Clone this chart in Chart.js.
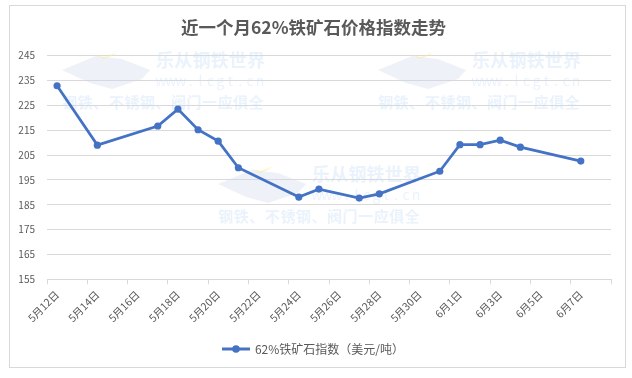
<!DOCTYPE html>
<html>
<head>
<meta charset="utf-8">
<script src="https://cdn.jsdelivr.net/npm/chart.js@4"></script>
<style>
  html, body { margin: 0; padding: 0; background: #fff; }
  #wrap { width: 632px; height: 378px; }
</style>
</head>
<body>
<div id="wrap"><canvas id="chart" width="632" height="378"></canvas></div>
<script>
// 近一个月62%铁矿石价格指数走势

// every day on the axis (one slot per day)
const axisDays = [
    '5月12日', '5月13日', '5月14日', '5月15日', '5月16日', '5月17日', '5月18日',
    '5月19日', '5月20日', '5月21日', '5月22日', '5月23日', '5月24日', '5月25日',
    '5月26日', '5月27日', '5月28日', '5月29日', '5月30日', '5月31日', '6月1日',
    '6月2日', '6月3日', '6月4日', '6月5日', '6月6日', '6月7日', '6月8日'
];

// days with a published index
const priceDates = [
    '5月12日', '5月14日', '5月17日', '5月18日', '5月19日', '5月20日', '5月21日',
    '5月24日', '5月25日', '5月27日', '5月28日', '5月31日', '6月1日', '6月2日',
    '6月3日', '6月4日', '6月7日'
];
const priceValues = [
    232.9, 209.0, 216.7, 223.5, 215.2, 210.6, 199.9,
    188.1, 191.3, 187.7, 189.4, 198.5, 209.2, 209.2,
    211.0, 208.2, 202.6
];

const yTicks = [155, 165, 175, 185, 195, 205, 215, 225, 235, 245];

const seriesName = '62%铁矿石指数（美元/吨）';
const titleText = '近一个月62%铁矿石价格指数走势';
const markText = ['乐从钢铁世界', 'www.lcgt.cn', '钢铁、不锈钢、阀门一应俱全'];

const blue = '#4472C4';
const textGrey = '#595959';
const lineGrey = '#d9d9d9';
const cjk = '"Noto Sans CJK SC", "Noto Sans", sans-serif';

// legend marker: short line with a dot, like the spreadsheet legend
function makeLegendSymbol() {
    const c = document.createElement('canvas');
    c.width = 28;
    c.height = 10;
    const g = c.getContext('2d');
    g.strokeStyle = blue;
    g.lineWidth = 3;
    g.beginPath();
    g.moveTo(0, 5);
    g.lineTo(28, 5);
    g.stroke();
    g.fillStyle = blue;
    g.beginPath();
    g.arc(14, 5, 3.8, 0, Math.PI * 2);
    g.fill();
    return c;
}

// draw text with each character on an even pitch
function spacedText(g, text, left, right, y) {
    const step = (right - left) / text.length;
    for (let i = 0; i < text.length; i++) {
        g.fillText(text[i], left + step * (i + 0.5), y);
    }
}

function drawWatermark(g, dx, dy) {
    g.save();
    // faint logo block
    g.fillStyle = 'rgba(205, 214, 232, 0.35)';
    g.beginPath();
    g.moveTo(62 + dx, 70 + dy);
    g.lineTo(96 + dx, 56 + dy);
    g.lineTo(122 + dx, 59 + dy);
    g.lineTo(150 + dx, 70 + dy);
    g.lineTo(142 + dx, 79 + dy);
    g.lineTo(112 + dx, 89 + dy);
    g.lineTo(90 + dx, 83 + dy);
    g.closePath();
    g.fill();
    g.fillStyle = 'rgba(250, 232, 150, 0.45)';
    g.beginPath();
    g.moveTo(94 + dx, 54 + dy);
    g.lineTo(104 + dx, 57 + dy);
    g.lineTo(118 + dx, 52 + dy);
    g.lineTo(112 + dx, 56 + dy);
    g.lineTo(104 + dx, 59 + dy);
    g.closePath();
    g.fill();

    g.fillStyle = 'rgba(200, 222, 246, 0.38)';
    g.textAlign = 'center';
    g.textBaseline = 'middle';
    g.font = 'bold 18px ' + cjk;
    spacedText(g, markText[0], 156 + dx, 265 + dx, 60 + dy);
    g.font = '14px ' + cjk;
    spacedText(g, markText[1], 156 + dx, 265 + dx, 81 + dy);
    g.font = 'bold 15px ' + cjk;
    spacedText(g, markText[2], 62 + dx, 264 + dx, 102 + dy);
    g.restore();
}

const framePlugin = {
    id: 'frame',
    beforeDraw(chart) {
        const g = chart.ctx;
        g.save();
        g.fillStyle = '#fff';
        g.fillRect(0, 0, chart.width, chart.height);
        g.strokeStyle = lineGrey;
        g.lineWidth = 1;
        g.strokeRect(9.5, 5.5, 616, 362);
        g.restore();
    },
    beforeDatasetsDraw(chart) {
        const g = chart.ctx;
        drawWatermark(g, 0, 0);
        drawWatermark(g, 316, 0);
        drawWatermark(g, 156, 114);
    }
};

const legendSymbol = makeLegendSymbol();

new Chart(document.getElementById('chart'), {
    type: 'line',
    data: {
        labels: axisDays,
        datasets: [{
            label: seriesName,
            data: priceDates.map((d, i) => ({ x: d, y: priceValues[i] })),
            borderColor: blue,
            backgroundColor: blue,
            borderWidth: 2.75,
            pointRadius: 3.6,
            pointBorderWidth: 0,
            pointBackgroundColor: blue,
            tension: 0
        }]
    },
    options: {
        responsive: false,
        animation: false,
        devicePixelRatio: 1,
        layout: { padding: { left: 16, right: 21, top: 0, bottom: 13 } },
        scales: {
            x: {
                type: 'category',
                offset: true,
                grid: {
                    offset: true,
                    drawOnChartArea: false,
                    drawTicks: true,
                    tickLength: 5,
                    tickColor: ctx => (ctx.index === undefined || ctx.index % 2 === 0) ? lineGrey : 'rgba(0,0,0,0)'
                },
                border: { display: true, color: lineGrey, width: 1 },
                ticks: {
                    autoSkip: false,
                    minRotation: 45,
                    maxRotation: 45,
                    padding: 4,
                    color: textGrey,
                    font: { family: cjk, size: 10.5 },
                    callback: (val, i) => (i % 2 === 0 && i < axisDays.length - 1) ? axisDays[i] : ''
                },
                afterFit: scale => { scale.height = 53.7; }
            },
            y: {
                min: yTicks[0],
                max: yTicks[yTicks.length - 1],
                afterBuildTicks: scale => { scale.ticks = yTicks.map(v => ({ value: v })); },
                grid: { color: lineGrey, drawTicks: false },
                border: { display: false },
                ticks: {
                    padding: 12,
                    color: textGrey,
                    font: { family: cjk, size: 10 }
                },
                afterFit: scale => { scale.width = 31; }
            }
        },
        plugins: {
            title: {
                display: true,
                text: titleText,
                color: textGrey,
                font: { family: cjk, size: 17.5, weight: 'bold', lineHeight: 1.2 },
                padding: { top: 16.5, bottom: 18.2 }
            },
            legend: {
                position: 'bottom',
                labels: {
                    usePointStyle: true,
                    pointStyleWidth: 26,
                    color: textGrey,
                    font: { family: cjk, size: 12 },
                    padding: 10,
                    generateLabels: chart => {
                        const items = Chart.defaults.plugins.legend.labels.generateLabels(chart);
                        items.forEach(it => { it.pointStyle = legendSymbol; });
                        return items;
                    }
                }
            },
            tooltip: { enabled: false }
        }
    },
    plugins: [framePlugin]
});
</script>
</body>
</html>
